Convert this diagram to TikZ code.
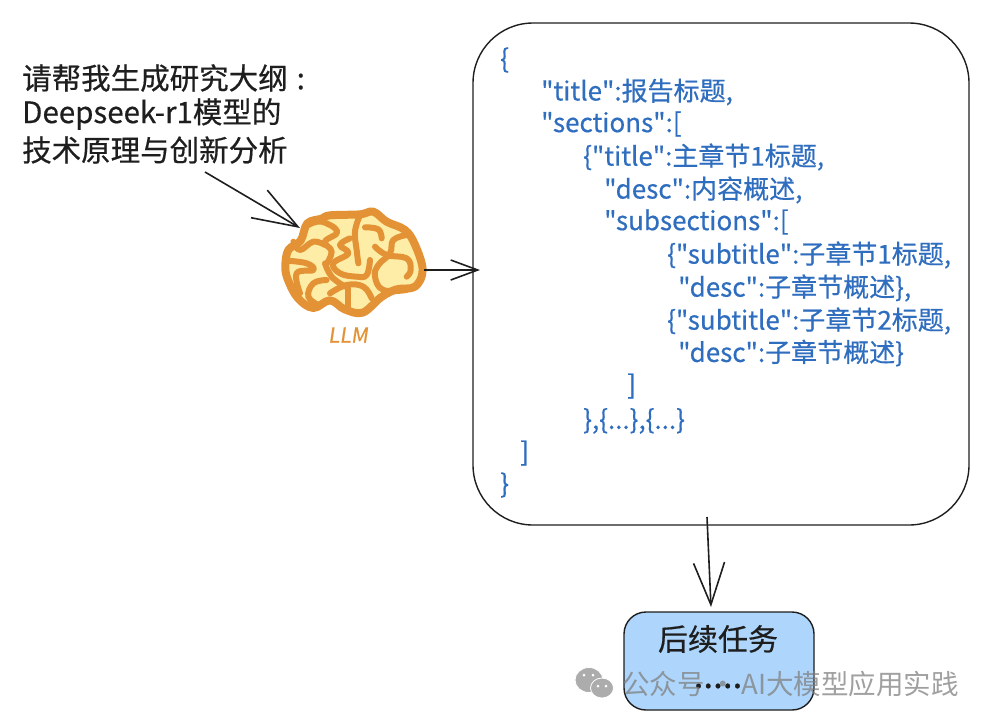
\documentclass[tikz,border=0pt]{standalone}
\usepackage{fontspec}
\newfontfamily\inkfont[FakeBold=0.5]{Noto Sans CJK SC}
\newfontfamily\wmfont{Noto Sans CJK SC}
\newfontfamily\llmfont[FakeSlant=0.15,FakeBold=0.5]{Noto Sans CJK SC}
\usetikzlibrary{positioning,arrows.meta}
\definecolor{jsonblue}{HTML}{2F6DBE}
\definecolor{brainorange}{HTML}{E39236}
\definecolor{brainyellow}{HTML}{FDEDA6}
\definecolor{taskblue}{HTML}{AED5FB}
\definecolor{inkblack}{HTML}{1E1E1E}
\tikzset{
	prompt/.style={anchor=west,inner sep=0pt,text=inkblack,font=\inkfont\fontsize{29.5}{29.5}\selectfont},
	json/.style={anchor=west,inner sep=0pt,text=jsonblue,font=\inkfont\fontsize{26}{26}\selectfont},
	barb/.style 2 args={-{Straight Barb[length=#1,width=#2]},draw=inkblack,line width=1.6pt},
	fold/.style={draw=brainorange,line width=6pt,line cap=round,line join=round}
}
\begin{document}
\begin{tikzpicture}[x=1pt,y=-1pt]
	\useasboundingbox (0,0) rectangle (988,724);
	\node[prompt] (p1) at (22,78) {请帮我生成研究大纲\hspace{9pt}:};
	\node[prompt] (p2) at (22,114) {Deepseek-r1模型的};
	\node[prompt] (p3) at (22,150) {技术原理与创新分析};

	\node[draw=inkblack,line width=1.4pt,rounded corners=60pt,minimum width=496pt,minimum height=502pt] (outline) at (721,274) {};
	\node[json] (j1) at (500,60) {\{};
	\node[json] (j2) at (541,92) {"title":报告标题,};
	\node[json] (j3) at (541,124) {"sections":[};
	\node[json] (j4) at (583,157) {\{"title":主章节1标题,};
	\node[json] (j5) at (604,190) {"desc":内容概述,};
	\node[json] (j6) at (604,222) {"subsections":[};
	\node[json] (j7) at (667,255) {\{"subtitle":子章节1标题,};
	\node[json] (j8) at (678,288) {"desc":子章节概述\},};
	\node[json] (j9) at (667,321) {\{"subtitle":子章节2标题,};
	\node[json] (j10) at (678,353) {"desc":子章节概述\}};
	\node[json] (j11) at (627,386) {]};
	\node[json] (j12) at (583,421) {\},\{...\},\{...\}};
	\node[json] (j13) at (520,453) {]};
	\node[json] (j14) at (500,485) {\}};

	% brain, traced in a 3x grid
	\begin{scope}[shift={(250,170)},x=0.3333pt,y=-0.3333pt]
		\coordinate (brain) at (310,280);
		\draw[fold,fill=brainyellow,line width=8pt] plot[smooth cycle,tension=0.6] coordinates {(106,290) (115,240) (152,212) (172,160) (215,146) (240,136) (330,133) (370,125) (410,155) (465,180) (495,224) (518,300) (495,350) (440,358) (393,382) (338,428) (284,418) (240,391) (190,414) (144,385) (114,330)};
		\draw[fold] plot[smooth,tension=0.7] coordinates {(175,165) (215,155) (262,185) (225,215) (245,245) (228,285)};
		\draw[fold] plot[smooth,tension=0.7] coordinates {(300,205) (270,225) (295,250) (250,280) (270,310) (320,320) (350,315) (360,270)};
		\draw[fold] plot[smooth,tension=0.7] coordinates {(330,135) (315,185) (320,240) (325,280)};
		\draw[fold] plot[smooth,tension=0.7] coordinates {(345,172) (385,178) (395,205)};
		\draw[fold] plot[smooth,tension=0.7] coordinates {(470,195) (430,210) (420,250) (385,285) (375,320) (400,360) (470,360)};
		\draw[fold] plot[smooth,tension=0.7] coordinates {(375,230) (410,255) (470,265) (482,300) (470,320)};
		\draw[fold] plot[smooth,tension=0.7] coordinates {(130,215) (150,240) (190,215) (225,225)};
		\draw[fold] plot[smooth,tension=0.7] coordinates {(110,272) (170,280) (190,300) (140,310) (150,370)};
		\draw[fold] plot[smooth,tension=0.7] coordinates {(230,330) (190,340) (175,380) (205,405)};
		\draw[fold] plot[smooth,tension=0.7] coordinates {(240,370) (290,345) (340,350) (365,385)};
		\draw[fold] plot[smooth,tension=0.7] coordinates {(295,355) (295,410)};
		\draw[fold] plot[smooth,tension=0.7] coordinates {(225,280) (245,320) (285,350)};
	\end{scope}
	\node[inner sep=0pt,text=brainorange,font=\llmfont\fontsize{21}{21}\selectfont] (llm) at (348,335) {LLM};

	\node[draw=inkblack,line width=1.4pt,fill=taskblue,rounded corners=22pt,minimum width=190pt,minimum height=98pt] (task) at (719,661) {};
	\node[inner sep=0pt,text=inkblack,font=\inkfont\fontsize{30}{30}\selectfont] (tasktitle) at (718,639) {后续任务};
	\node[inner sep=0pt,text=inkblack,font=\inkfont\fontsize{35}{35}\selectfont] (taskdots) at (718,686) {.....};

	\coordinate (promptend) at (205,172);
	\coordinate (brainin) at (300,228);
	\coordinate (brainout) at (424,270);
	\coordinate (outlinein) at (480,270);
	\coordinate (outlineout) at (707,517);
	\coordinate (taskin) at (711,607);
	\draw[barb={45pt}{32pt}] (promptend) -- (brainin);
	\draw[barb={27pt}{20pt}] (brainout) -- (outlinein);
	\draw[barb={42pt}{31pt}] (outlineout) -- (taskin);

	% watermark
	\fill[gray!65,draw=white,line width=0.8pt] (589,680) ellipse (14pt and 12.5pt);
	\fill[gray!65,draw=white,line width=0.8pt] (602,688) ellipse (11.5pt and 10pt);
	\foreach \i/\px/\py in {a/584/675,b/593/675,c/598/686,d/606/686}
		\fill[white] (\px,\py) circle (1.5pt);
	\node[anchor=west,inner sep=0pt,text=gray,opacity=0.75,font=\wmfont\fontsize{27.5}{27.5}\selectfont] (mark) at (622,684) {公众号\,·\,AI大模型应用实践};
\end{tikzpicture}
\end{document}
